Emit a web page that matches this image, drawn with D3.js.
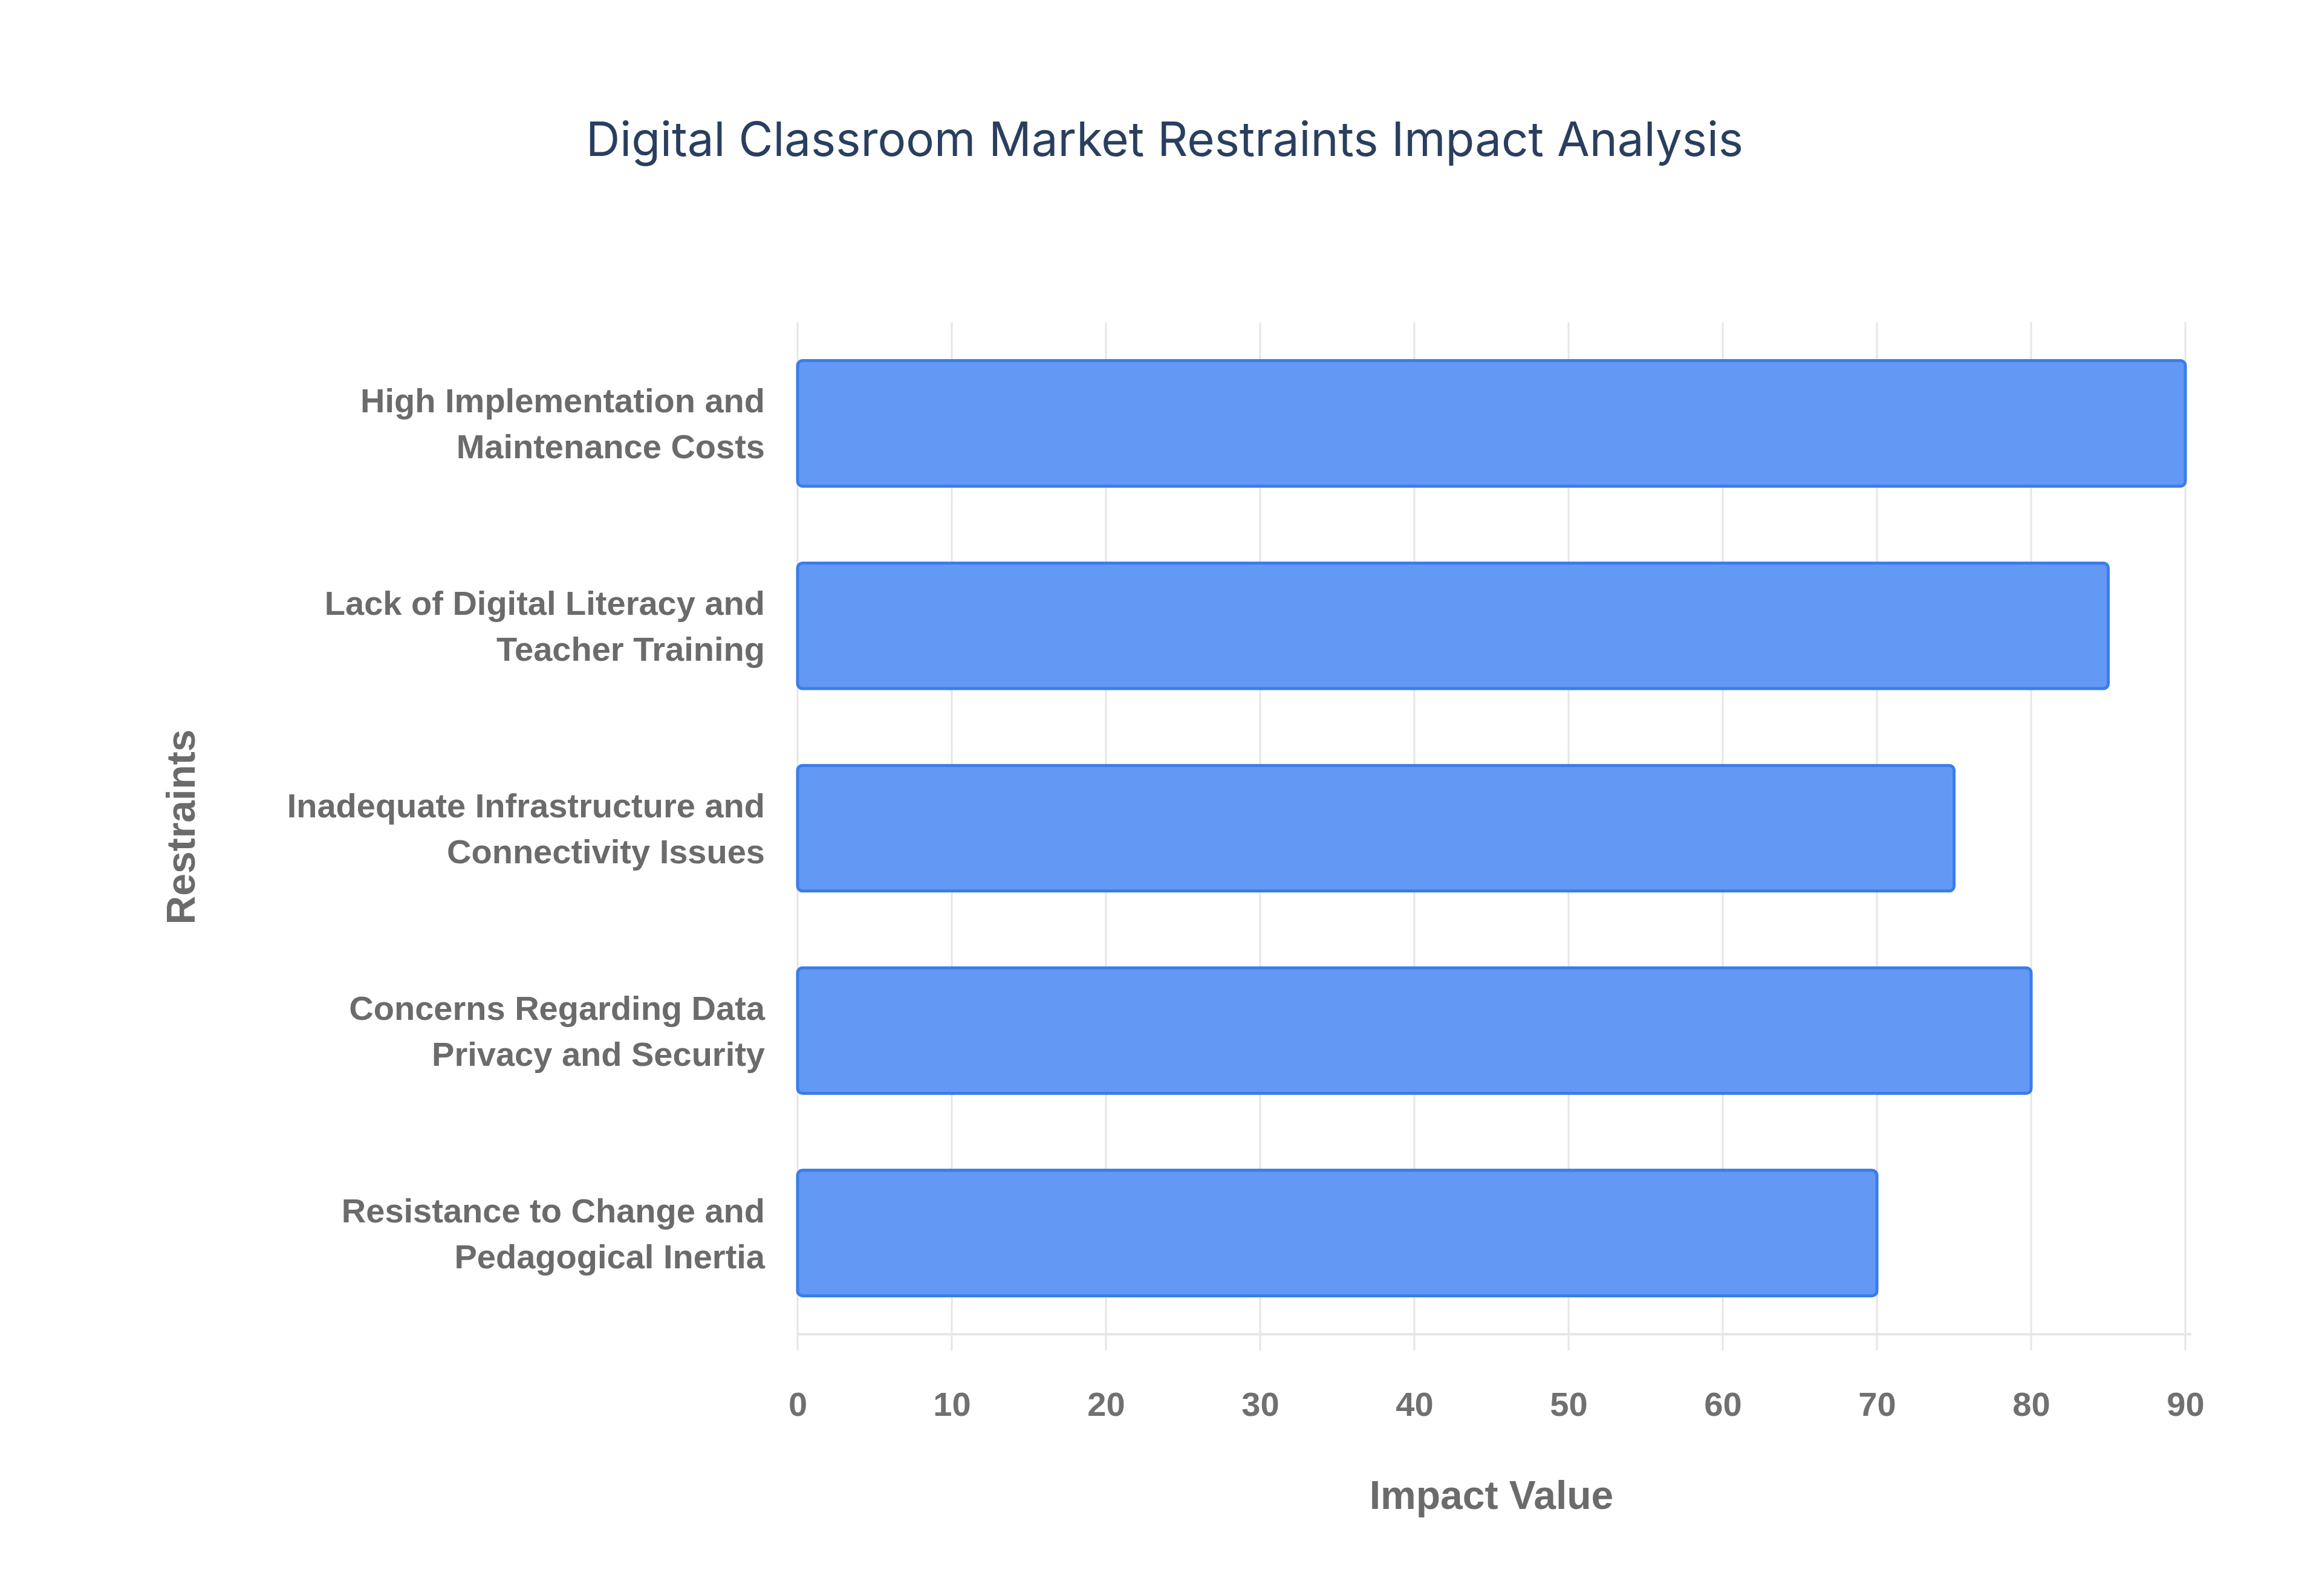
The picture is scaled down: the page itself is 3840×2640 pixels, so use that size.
<!DOCTYPE html>
<html><head><meta charset="utf-8">
<script src="https://cdn.jsdelivr.net/npm/d3@7"></script>
<style>body{margin:0;background:#fff}</style></head>
<body><svg id="c" width="3840" height="2640"></svg>
<script>
const categories = [
  ["High Implementation and","Maintenance Costs"],
  ["Lack of Digital Literacy and","Teacher Training"],
  ["Inadequate Infrastructure and","Connectivity Issues"],
  ["Concerns Regarding Data","Privacy and Security"],
  ["Resistance to Change and","Pedagogical Inertia"]
];
const values = [90, 85, 75, 80, 70];
const xTicks = [0,10,20,30,40,50,60,70,80,90];
const title = "Digital Classroom Market Restraints Impact Analysis";

const svg = d3.select("#c");
const L = 1319, R = 3614, T = 533, B = 2207;
const x = d3.scaleLinear().domain([0,90]).range([L,R]);
const y = d3.scaleBand().domain(d3.range(categories.length)).range([T,B]).paddingInner(0.38).paddingOuter(0.19);

// grid
svg.append("g").selectAll("line").data(xTicks).join("line")
  .attr("x1",d=>x(d)).attr("x2",d=>x(d)).attr("y1",T).attr("y2",B+27)
  .attr("stroke","#e6e6e6").attr("stroke-width",3);
svg.append("line").attr("x1",L).attr("x2",R+10).attr("y1",B).attr("y2",B)
  .attr("stroke","#e6e6e6").attr("stroke-width",4);

// bars
svg.append("g").selectAll("rect").data(values).join("rect")
  .attr("x",x(0)).attr("y",(d,i)=>y(i)).attr("width",d=>x(d)-x(0)).attr("height",y.bandwidth())
  .attr("rx",8).attr("fill","#6399f5").attr("stroke","#3b7de9").attr("stroke-width",5);

// x tick labels
const xa = svg.append("g").attr("transform",`translate(0,${B+27})`)
  .call(d3.axisBottom(x).tickValues(xTicks).tickSize(0).tickPadding(68));
xa.select(".domain").remove();
xa.selectAll("text").attr("font-family","'Liberation Sans',Arial,sans-serif").attr("font-weight","bold")
  .attr("font-size",56).attr("fill","#707070");

// y labels
const yl = svg.append("g");
categories.forEach((c,i)=>{
  const cy = y(i)+y.bandwidth()/2;
  const t = yl.append("text").attr("text-anchor","end")
    .attr("font-family","'Liberation Sans',Arial,sans-serif").attr("font-weight","bold")
    .attr("font-size",56).attr("fill","#6b6b6b");
  c.forEach((line,j)=>{
    t.append("tspan").attr("x",1265).attr("y",cy + (j-0.5)*76 + 20).text(line);
  });
});

// axis titles
svg.append("text").attr("transform","translate(322,1368) rotate(-90)").attr("text-anchor","middle")
  .attr("font-family","'Liberation Sans',Arial,sans-serif").attr("font-weight","bold")
  .attr("font-size",66).attr("fill","#6b6b6b").text("Restraints");
svg.append("text").attr("x",(L+R)/2).attr("y",2496).attr("text-anchor","middle")
  .attr("font-family","'Liberation Sans',Arial,sans-serif").attr("font-weight","bold")
  .attr("font-size",66).attr("fill","#6b6b6b").text("Impact Value");

// title
svg.append("text").attr("x",1926).attr("y",258).attr("text-anchor","middle")
  .attr("font-family","Inter,'Open Sans',sans-serif").attr("font-size",78)
  .attr("fill","#2a3f5f").text(title);
</script></body></html>
